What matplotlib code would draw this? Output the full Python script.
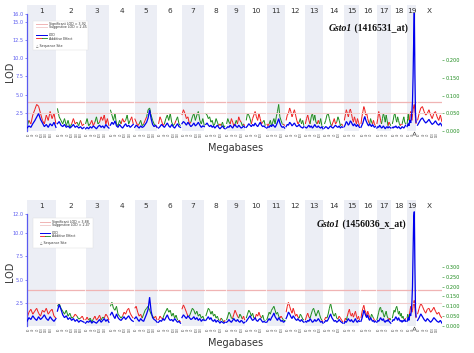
import numpy as np
import matplotlib
matplotlib.use('Agg')
import matplotlib.pyplot as plt
from matplotlib.collections import LineCollection

chrom_names = ['1', '2', '3', '4', '5', '6', '7', '8', '9', '10', '11', '12', '13',
               '14', '15', '16', '17', '18', '19', 'X']
chrom_len_mb = [197.2, 181.7, 159.6, 155.6, 152.5, 149.5, 152.5, 131.7, 124.1, 129.9,
                121.8, 121.3, 120.3, 125.2, 103.5, 98.3, 95.3, 90.8, 61.3, 166.7]

gene = 'Gsto1'
probe_top = ' (1416531_at)'
probe_bot = ' (1456036_x_at)'
sig_top, sugg_top = 3.92, 2.45
sig_bot, sugg_bot = 3.88, 2.47
lod_ticks_top = [2.5, 5.0, 7.5, 10.0, 12.5, 15.0, 16.0]
lod_ticks_bot = [2.5, 5.0, 7.5, 10.0, 12.0]
add_ticks_top = [0.0, 0.05, 0.10, 0.15, 0.20]
add_ticks_bot = [0.0, 0.05, 0.10, 0.15, 0.20, 0.25, 0.30]
seq_site_chr = 19
seq_site_mb = 48.0

lod_top = [
    [0.4, 0.7, 0.5, 1.0, 1.4, 1.9, 2.4, 1.6, 1.1, 0.6, 0.9, 0.5, 1.0, 0.7, 1.2, 0.5],
    [1.0, 1.3, 0.8, 0.6, 0.9, 0.5, 0.7, 0.4, 0.6, 0.9, 0.5, 0.7, 0.4, 0.6, 0.3, 0.5],
    [0.3, 0.5, 0.3, 0.6, 0.4, 0.7, 0.5, 0.3, 0.6, 0.8, 0.5, 0.7, 0.4, 0.9, 0.6, 0.4],
    [0.8, 1.2, 0.9, 1.4, 0.7, 0.5, 0.9, 0.6, 0.4, 0.7, 1.0, 0.6, 0.8, 0.5, 0.7, 0.9],
    [0.5, 0.8, 0.6, 0.4, 0.7, 0.5, 0.6, 0.9, 1.2, 1.8, 2.9, 1.7, 0.9, 0.6, 0.8, 0.5],
    [0.4, 0.6, 0.9, 0.7, 0.5, 0.8, 1.1, 0.7, 0.5, 0.9, 0.6, 0.4, 0.7, 1.0, 0.6, 0.5],
    [1.0, 1.3, 1.1, 0.8, 1.2, 0.9, 0.6, 0.8, 1.1, 0.7, 0.9, 1.2, 0.8, 0.5, 0.7, 0.6],
    [0.9, 1.1, 0.8, 0.6, 0.8, 0.5, 0.7, 0.4, 0.6, 0.8, 0.5, 0.3, 0.5, 0.7, 0.4, 0.3],
    [0.4, 0.6, 0.5, 0.8, 0.6, 0.4, 0.7, 0.9, 0.6, 0.5, 0.8, 0.6, 0.4, 0.5, 0.7, 0.5],
    [0.5, 0.7, 1.0, 0.8, 0.6, 0.9, 0.7, 1.1, 0.8, 0.6, 0.9, 1.2, 0.8, 0.6, 0.7, 0.5],
    [0.4, 0.6, 0.5, 0.8, 0.6, 0.9, 0.7, 0.5, 0.8, 1.2, 1.7, 1.1, 0.7, 0.5, 0.6, 0.4],
    [0.6, 0.9, 0.8, 1.2, 1.0, 0.7, 0.9, 1.1, 0.8, 0.6, 0.7, 0.9, 0.6, 0.5, 0.4, 0.6],
    [0.5, 0.4, 0.6, 0.8, 0.5, 0.7, 0.4, 0.6, 0.9, 0.6, 0.5, 0.7, 0.5, 0.4, 0.6, 0.3],
    [0.4, 0.6, 0.5, 0.3, 0.5, 0.7, 0.5, 0.4, 0.6, 0.8, 0.6, 0.5, 0.7, 0.4, 0.6, 0.5],
    [0.6, 0.9, 1.3, 1.1, 0.8, 1.0, 1.4, 1.2, 0.9, 0.7, 1.0, 0.8, 0.6, 0.9, 0.7, 0.5],
    [0.5, 0.8, 1.1, 1.6, 2.0, 1.5, 1.2, 0.9, 0.7, 1.0, 0.8, 0.6, 0.9, 0.7, 0.5, 0.6],
    [0.4, 0.6, 0.5, 0.8, 0.6, 0.4, 0.5, 0.7, 0.5, 0.3, 0.5, 0.6, 0.4, 0.6, 0.5, 0.4],
    [0.5, 0.4, 0.6, 0.5, 0.7, 0.5, 0.4, 0.6, 0.5, 0.3, 0.4, 0.6, 0.5, 0.4, 0.6, 0.8],
    [0.6, 0.8, 1.0, 0.7, 1.2, 1.5, 1.1, 1.8, 2.6, 4.0, 7.5, 12.5, 16.2, 8.0, 2.4, 1.2],
    [0.8, 1.2, 1.6, 1.8, 1.4, 1.1, 1.3, 1.6, 1.2, 0.9, 1.1, 1.4, 1.0, 0.8, 1.1, 0.7],
]
add_top = [
    [-0.012, 0.03, 0.02, 0.045, 0.06, 0.075, 0.07, 0.05, 0.03, 0.02, 0.045, 0.03, 0.055, 0.035, 0.05, 0.02],
    [-0.064, -0.04, -0.03, -0.02, -0.035, -0.015, -0.03, -0.01, 0.02, 0.035, 0.02, -0.025, -0.015, 0.03, 0.015, 0.02],
    [-0.02, -0.035, -0.015, 0.02, 0.03, 0.015, -0.025, -0.04, -0.02, 0.025, 0.04, 0.03, 0.045, 0.02, 0.035, 0.015],
    [-0.06, -0.045, -0.03, -0.05, -0.02, -0.015, -0.03, 0.02, 0.035, 0.025, -0.03, -0.045, -0.02, 0.03, 0.04, 0.02],
    [0.035, 0.025, 0.015, -0.02, -0.03, -0.015, 0.02, 0.03, -0.04, -0.06, -0.065, -0.045, -0.03, -0.02, 0.015, -0.01],
    [0.02, 0.04, 0.03, 0.015, -0.02, -0.035, -0.045, -0.03, -0.05, -0.025, -0.015, 0.02, -0.03, -0.04, -0.02, -0.015],
    [0.045, 0.06, 0.05, 0.035, 0.04, 0.02, -0.025, -0.04, -0.05, -0.03, -0.045, -0.055, -0.03, -0.02, -0.035, -0.015],
    [-0.05, -0.045, -0.035, -0.04, -0.025, -0.03, -0.015, -0.02, -0.035, -0.025, 0.015, 0.02, -0.015, -0.025, -0.01, 0.015],
    [-0.02, -0.035, -0.025, 0.02, 0.035, 0.025, 0.015, -0.02, -0.03, 0.02, 0.04, 0.03, -0.025, -0.015, 0.02, 0.015],
    [-0.03, -0.05, -0.045, -0.035, 0.02, 0.035, 0.045, 0.055, 0.04, 0.03, 0.05, 0.035, 0.02, -0.025, -0.03, 0.015],
    [0.02, 0.015, -0.02, -0.03, -0.015, -0.025, -0.035, -0.02, -0.04, -0.055, -0.075, -0.04, -0.03, -0.02, 0.02, 0.015],
    [0.03, 0.045, 0.05, 0.065, 0.055, 0.04, 0.05, 0.06, 0.045, 0.03, 0.02, -0.025, -0.035, -0.02, -0.03, -0.015],
    [0.02, 0.035, 0.045, 0.03, -0.02, -0.04, -0.05, -0.03, -0.045, -0.025, 0.02, 0.03, -0.02, -0.035, -0.015, 0.015],
    [-0.02, -0.03, -0.045, -0.05, -0.035, -0.02, 0.015, 0.025, 0.035, 0.02, -0.025, -0.04, -0.03, -0.015, 0.02, 0.015],
    [0.03, 0.045, 0.06, 0.05, 0.04, 0.055, 0.062, 0.05, 0.035, 0.025, 0.04, 0.03, 0.02, 0.035, 0.025, 0.015],
    [0.02, 0.04, 0.055, 0.069, 0.06, 0.045, 0.05, 0.035, 0.025, -0.02, -0.035, -0.025, 0.02, 0.03, 0.02, -0.015],
    [0.02, 0.035, 0.055, 0.045, 0.03, -0.02, -0.035, -0.05, -0.04, -0.025, -0.045, -0.03, 0.015, 0.025, -0.02, -0.015],
    [-0.02, -0.03, -0.045, -0.05, -0.035, -0.025, -0.04, -0.03, -0.02, 0.015, 0.02, -0.02, -0.03, -0.04, -0.025, 0.02],
    [-0.02, -0.035, -0.05, -0.03, 0.03, 0.045, 0.055, 0.04, 0.03, 0.045, 0.06, 0.07, 0.075, 0.06, 0.035, 0.02],
    [0.03, 0.05, 0.065, 0.069, 0.055, 0.045, 0.05, 0.06, 0.045, 0.035, 0.05, 0.055, 0.04, 0.03, 0.045, 0.025],
]
lod_bot = [
    [0.5, 0.9, 0.7, 1.1, 0.8, 0.6, 1.0, 0.7, 0.9, 1.2, 0.8, 0.6, 1.0, 0.7, 0.5, 0.8],
    [1.6, 2.3, 1.8, 1.2, 0.9, 1.1, 0.7, 0.9, 0.6, 0.8, 0.5, 0.7, 0.4, 0.6, 0.5, 0.4],
    [0.3, 0.5, 0.4, 0.6, 0.3, 0.5, 0.4, 0.3, 0.5, 0.7, 0.4, 0.6, 0.8, 0.5, 0.7, 0.4],
    [1.2, 1.5, 1.1, 0.8, 1.3, 0.9, 0.7, 0.6, 0.8, 1.0, 0.7, 0.9, 1.1, 0.8, 0.6, 0.5],
    [0.8, 1.0, 0.7, 0.5, 0.8, 0.6, 0.5, 0.9, 1.3, 1.8, 3.1, 1.6, 0.9, 0.7, 0.6, 0.4],
    [0.4, 0.6, 0.5, 0.8, 0.6, 0.9, 1.2, 0.8, 0.6, 0.7, 0.5, 0.8, 0.6, 0.4, 0.5, 0.3],
    [0.9, 1.2, 1.0, 0.8, 1.1, 0.9, 0.7, 0.8, 1.0, 0.7, 0.9, 0.6, 0.8, 0.5, 0.7, 0.6],
    [0.6, 0.8, 1.0, 0.7, 0.9, 0.6, 0.5, 0.7, 0.4, 0.6, 0.5, 0.3, 0.5, 0.4, 0.3, 0.4],
    [0.4, 0.5, 0.7, 0.5, 0.4, 0.6, 0.8, 0.6, 0.5, 0.7, 0.5, 0.4, 0.6, 0.5, 0.3, 0.4],
    [0.5, 0.7, 0.9, 1.1, 0.8, 0.6, 0.7, 0.9, 0.6, 0.5, 0.7, 0.8, 0.6, 0.4, 0.5, 0.4],
    [0.4, 0.6, 0.8, 0.6, 0.9, 1.1, 1.4, 1.0, 0.8, 0.6, 0.9, 0.7, 0.5, 0.6, 0.4, 0.5],
    [0.8, 1.1, 1.5, 1.3, 1.0, 0.8, 1.1, 0.9, 0.7, 0.6, 0.8, 0.6, 0.5, 0.7, 0.5, 0.4],
    [0.5, 0.4, 0.6, 0.5, 0.8, 0.6, 0.4, 0.5, 0.7, 0.5, 0.6, 0.8, 0.6, 0.4, 0.5, 0.3],
    [0.4, 0.6, 0.5, 0.7, 1.0, 1.3, 0.9, 0.7, 0.5, 0.6, 0.4, 0.5, 0.7, 0.5, 0.4, 0.3],
    [0.3, 0.5, 0.4, 0.6, 0.8, 0.6, 0.5, 0.7, 0.5, 0.4, 0.6, 0.8, 0.5, 0.4, 0.6, 0.5],
    [0.5, 0.8, 1.2, 1.7, 1.4, 1.1, 0.9, 1.2, 0.8, 0.6, 0.9, 0.7, 0.5, 0.6, 0.4, 0.5],
    [0.4, 0.6, 0.5, 0.7, 0.9, 0.7, 0.6, 0.8, 0.5, 0.4, 0.6, 0.5, 0.7, 0.5, 0.4, 0.3],
    [0.5, 0.7, 0.6, 0.8, 1.0, 0.8, 0.6, 0.9, 0.7, 0.5, 0.6, 0.4, 0.6, 0.5, 0.7, 0.5],
    [0.5, 0.7, 0.9, 0.6, 1.0, 1.3, 1.1, 1.6, 2.5, 4.2, 8.0, 11.5, 12.3, 6.5, 2.0, 1.0],
    [0.6, 0.9, 1.3, 1.0, 0.7, 0.5, 0.8, 0.6, 0.4, 0.6, 0.9, 0.7, 0.5, 0.4, 0.6, 0.3],
]
add_bot = [
    [0.04, 0.07, 0.085, 0.06, 0.075, 0.09, 0.065, 0.05, 0.08, 0.07, 0.09, 0.06, 0.075, 0.085, 0.05, 0.04],
    [-0.1, -0.115, -0.09, -0.075, -0.06, -0.08, -0.05, -0.065, -0.04, 0.045, 0.06, -0.05, -0.035, 0.04, 0.05, 0.03],
    [0.03, 0.045, -0.03, -0.04, -0.02, 0.035, 0.05, 0.03, 0.04, 0.055, -0.03, -0.045, 0.04, 0.06, 0.05, 0.03],
    [-0.1, -0.12, -0.09, -0.08, -0.1, -0.06, -0.05, -0.04, 0.05, 0.07, 0.06, 0.08, 0.09, 0.065, 0.05, 0.04],
    [0.09, 0.1, 0.07, 0.05, 0.06, -0.04, -0.06, -0.08, -0.09, -0.1, -0.08, -0.06, -0.05, 0.04, 0.05, 0.03],
    [0.03, 0.05, 0.04, -0.04, -0.06, -0.075, -0.09, -0.07, -0.08, -0.05, -0.065, -0.04, -0.055, -0.03, 0.03, 0.02],
    [0.085, 0.107, 0.09, 0.07, 0.05, -0.05, -0.07, -0.09, -0.08, -0.06, -0.075, -0.05, -0.06, -0.04, -0.05, -0.03],
    [-0.05, -0.07, -0.09, -0.08, -0.06, -0.075, -0.05, -0.06, -0.04, -0.05, -0.03, 0.03, -0.04, -0.03, 0.02, 0.03],
    [-0.03, -0.05, -0.07, -0.06, -0.04, 0.04, 0.06, 0.08, 0.065, 0.05, -0.04, -0.06, -0.05, 0.035, 0.05, 0.03],
    [-0.04, -0.06, -0.08, -0.07, -0.05, -0.065, -0.04, 0.04, 0.06, 0.05, 0.07, 0.05, -0.04, -0.055, -0.03, 0.03],
    [-0.03, -0.05, -0.07, -0.06, -0.08, -0.09, -0.1, -0.08, -0.06, -0.07, -0.05, 0.04, 0.05, -0.04, -0.03, 0.03],
    [0.07, 0.1, 0.12, 0.1, 0.08, 0.065, 0.09, 0.07, 0.05, 0.06, 0.045, -0.04, -0.06, -0.05, -0.035, 0.03],
    [0.03, 0.05, 0.065, 0.045, -0.04, -0.06, -0.08, -0.09, -0.07, -0.05, -0.065, -0.08, -0.06, -0.04, 0.03, 0.02],
    [0.03, 0.045, -0.04, -0.06, -0.09, -0.115, -0.085, -0.06, -0.05, -0.065, -0.04, 0.035, 0.05, 0.04, 0.03, 0.02],
    [0.02, 0.04, -0.03, 0.05, 0.07, 0.085, 0.06, 0.05, 0.065, 0.045, 0.06, 0.075, 0.05, 0.035, 0.05, 0.03],
    [0.04, 0.07, 0.09, 0.105, 0.08, 0.07, 0.05, 0.075, 0.06, 0.045, -0.04, -0.06, -0.05, 0.04, 0.03, -0.03],
    [-0.03, -0.05, -0.07, -0.09, -0.095, -0.07, -0.08, -0.06, -0.045, -0.06, -0.075, -0.05, 0.04, 0.03, -0.04, -0.03],
    [-0.04, -0.06, -0.08, -0.07, -0.09, -0.1, -0.08, -0.06, -0.075, -0.05, -0.065, -0.04, -0.05, -0.035, 0.03, 0.04],
    [-0.04, -0.06, -0.05, 0.04, 0.06, 0.08, 0.1, 0.09, 0.07, 0.08, 0.1, 0.12, 0.13, 0.09, 0.06, 0.04],
    [0.06, 0.09, 0.115, 0.1, 0.08, 0.065, 0.085, 0.09, 0.07, 0.08, 0.095, 0.075, 0.06, 0.07, 0.05, 0.04],
]

# ---------------- layout / style ----------------
W, H = 474, 353
GAP = 10.0
SHADE = '#eceef5'
BLUE = '#0000ee'
RED = '#ee1c1c'
GREEN = '#1a8a1a'
PINK = '#f0b4b4'
PINK2 = '#f2cfcf'
AXBLUE = '#5a5af0'

offsets = []
pos = 0.0
for L in chrom_len_mb:
    offsets.append(pos)
    pos += L + GAP
total = pos - GAP

fig = plt.figure(figsize=(W / 100, H / 100), dpi=100)
fig.patch.set_facecolor('white')


def px_axes(x0, y0, x1, y1):
    return fig.add_axes([x0 / W, 1 - y1 / H, (x1 - x0) / W, (y1 - y0) / H])


def panel(y_top, y_bot, lods, adds, ylim_lod, ylim_add, lod_ticks, add_ticks,
          sig, sugg, probe, legend_box, legend_rows, title_xy, sig_text, sugg_text,
          lod_label_y):
    ax2 = px_axes(27, y_top, 442, y_bot)
    ax = ax2.twinx()
    ax.set_zorder(ax2.get_zorder() + 1)
    ax.patch.set_visible(False)
    ax.yaxis.tick_left()
    ax.yaxis.set_label_position('left')
    ax2.yaxis.tick_right()
    ax2.yaxis.set_label_position('right')

    ax2.set_xlim(0, total)
    ax2.set_ylim(0, ylim_add)
    ax.set_ylim(0, ylim_lod)
    for s in ['top', 'right', 'bottom', 'left']:
        ax2.spines[s].set_visible(False)
        ax.spines[s].set_visible(False)
    ax.spines['left'].set_visible(True)
    ax.spines['left'].set_color(AXBLUE)
    ax.spines['left'].set_linewidth(0.9)
    ax.spines['left'].set_bounds(0, lod_ticks[-1])
    ax2.set_xticks([])
    ax.set_xticks([])

    ax.set_yticks(lod_ticks)
    ax.set_yticklabels(['%.1f' % t for t in lod_ticks])
    ax.tick_params(axis='y', colors=AXBLUE, labelsize=3.6, length=1.5, width=0.5, pad=1)
    ax2.set_yticks(add_ticks)
    ax2.set_yticklabels(['%.3f' % t for t in add_ticks])
    ax2.tick_params(axis='y', colors=GREEN, labelsize=3.6, length=1.5, width=0.4, pad=1)

    # chromosome shading, labels, threshold lines
    for i, (name, L, off) in enumerate(zip(chrom_names, chrom_len_mb, offsets)):
        if i % 2 == 0:
            ax2.axvspan(off, off + L, color=SHADE, lw=0, zorder=0)
        ax.text(off + L / 2, 0.95, name, transform=ax.get_xaxis_transform(),
                ha='center', va='center', fontsize=5.3, color='#333333')
        ax.plot([off, off + L], [sig, sig], color=PINK, lw=0.9, zorder=1)
        ax.plot([off, off + L], [sugg, sugg], color=PINK2, lw=0.8, zorder=1)
        for mb in range(10, int(L) - 12, 30):
            ax.text(off + mb, -0.012, str(mb), transform=ax.get_xaxis_transform(),
                    rotation=90, ha='center', va='top', fontsize=1.9, color='#555555',
                    clip_on=False)

    # additive effect (red / green) on right axis
    for L, off, a in zip(chrom_len_mb, offsets, adds):
        a = np.asarray(a, dtype=float)
        x = np.linspace(off, off + L, len(a))
        y = np.abs(a)
        segs = np.stack([np.column_stack([x[:-1], y[:-1]]),
                         np.column_stack([x[1:], y[1:]])], axis=1)
        cols = [RED if v > 0 else GREEN for v in a[:-1]]
        ax2.add_collection(LineCollection(segs, colors=cols, linewidths=0.7, zorder=2))

    # LOD (blue) on left axis
    for L, off, l in zip(chrom_len_mb, offsets, lods):
        x = np.linspace(off, off + L, len(l))
        ax.plot(x, l, color=BLUE, lw=0.9, zorder=3, solid_joinstyle='miter')

    # sequence site
    ci = chrom_names.index(str(seq_site_chr))
    ax.plot([offsets[ci] + seq_site_mb], [-0.25], marker='^', ms=2.2, mfc='white',
            mec='#333333', mew=0.4, clip_on=False, zorder=5)

    # legend box (pixel coords converted to axes fraction)
    def fx(px):
        return (px - 27) / 415.0

    def fy(py):
        return (y_bot - py) / float(y_bot - y_top)

    bx0, by0, bx1, by1 = legend_box
    ax.add_patch(plt.Rectangle((fx(bx0), fy(by1)), fx(bx1) - fx(bx0), fy(by0) - fy(by1),
                               transform=ax.transAxes, facecolor='white',
                               edgecolor='#dddddd', lw=0.3, zorder=6))
    lx0, lx1, tx = legend_rows['x']
    rows = [(legend_rows['y'][0], PINK, sig_text), (legend_rows['y'][1], PINK2, sugg_text),
            (legend_rows['y'][2], BLUE, 'LOD'), (legend_rows['y'][3], None, 'Additive Effect')]
    for py, c, t in rows:
        if c is None:
            ax.plot([fx(lx0), fx((lx0 + lx1) / 2)], [fy(py), fy(py)], color=RED, lw=0.6,
                    transform=ax.transAxes, zorder=7)
            ax.plot([fx((lx0 + lx1) / 2), fx(lx1)], [fy(py), fy(py)], color=GREEN, lw=0.6,
                    transform=ax.transAxes, zorder=7)
        else:
            ax.plot([fx(lx0), fx(lx1)], [fy(py), fy(py)], color=c, lw=0.7,
                    transform=ax.transAxes, zorder=7)
        ax.text(fx(tx), fy(py), t, transform=ax.transAxes, fontsize=2.3, va='center',
                ha='left', color='#333333', zorder=8)
    py = legend_rows['y'][4]
    ax.text(fx(lx0), fy(py), '\u25b3 Sequence Site', transform=ax.transAxes, fontsize=2.3,
            va='center', ha='left', color='#333333', zorder=8)

    # title
    t1 = ax.text(fx(title_xy[0]), fy(title_xy[1]), gene, transform=ax.transAxes,
                 fontsize=7, family='Liberation Serif', style='italic', weight='bold',
                 ha='left', va='center', color='#111111', zorder=8)
    ax.annotate(probe, xy=(1, 0), xycoords=t1, ha='left', va='bottom',
                fontsize=7, family='Liberation Serif', weight='bold', color='#111111',
                zorder=8)

    # axis labels
    fig.text(9.5 / W, 1 - lod_label_y / H, 'LOD', rotation=90, ha='center',
             va='center', fontsize=7, color='#333333')
    fig.text(236 / W, 1 - (y_bot + 17) / H, 'Megabases', ha='center', va='center',
             fontsize=7, color='#333333')
    return ax, ax2


panel(5, 131, lod_top, add_top, 17.3, 126 / 354.0, lod_ticks_top, add_ticks_top,
      sig_top, sugg_top, probe_top,
      legend_box=(33, 21, 88, 50),
      legend_rows={'x': (36, 47, 49), 'y': [24, 27, 35, 38.5, 46]},
      title_xy=(329, 29),
      sig_text='Significant LOD = 3.92', sugg_text='Suggestive LOD = 2.45',
      lod_label_y=72)

panel(200, 326, lod_bot, add_bot, 13.55, 126 / 197.0, lod_ticks_bot, add_ticks_bot,
      sig_bot, sugg_bot, probe_bot,
      legend_box=(33, 218, 93, 248),
      legend_rows={'x': (40, 50, 52), 'y': [222, 225, 233, 236.5, 243]},
      title_xy=(317, 225),
      sig_text='Significant LOD = 3.88', sugg_text='Suggestive LOD = 2.47',
      lod_label_y=272)

fig.savefig('out.png', dpi=100, facecolor='white')
